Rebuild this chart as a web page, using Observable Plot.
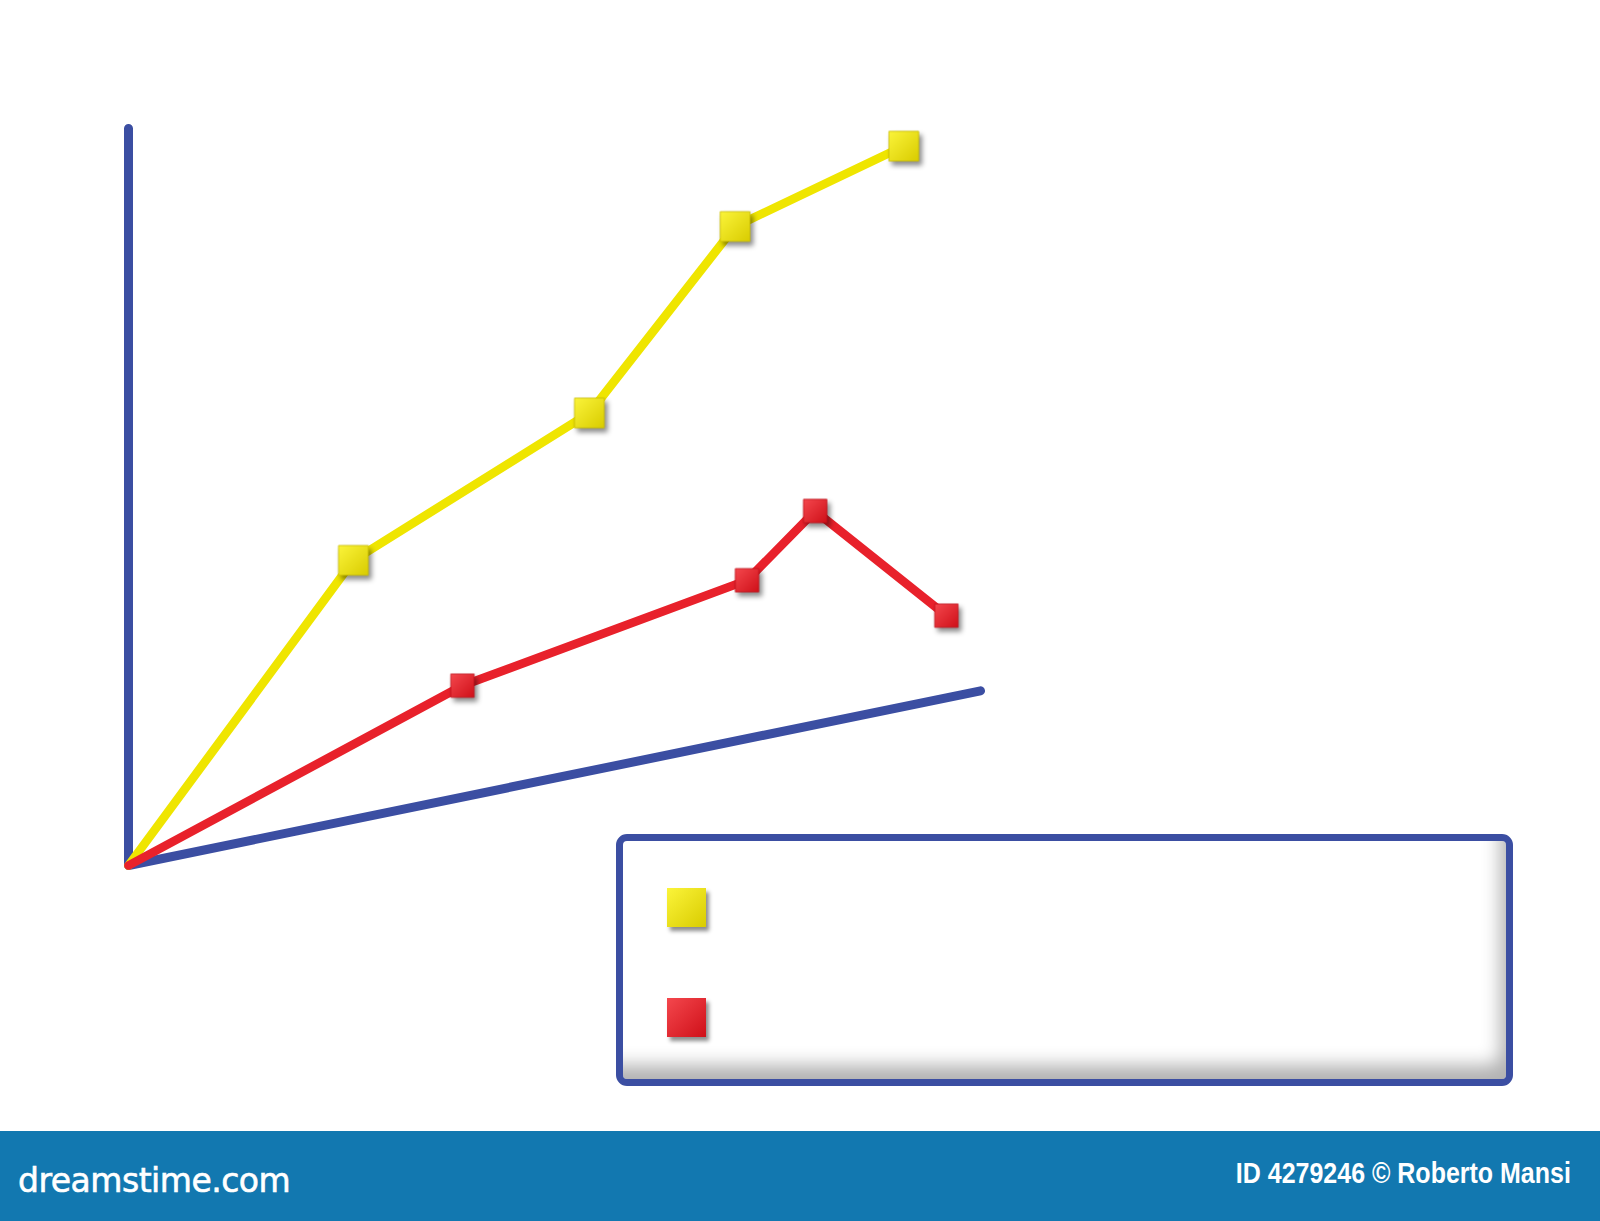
<!DOCTYPE html>
<html>
<head>
<meta charset="utf-8">
<script src="https://cdn.jsdelivr.net/npm/d3@7"></script>
<script src="https://cdn.jsdelivr.net/npm/@observablehq/plot@0.6"></script>
<style>
  html, body { margin: 0; padding: 0; background: #fff; }
  #page { position: relative; width: 1600px; height: 1221px; overflow: hidden; background: #fff; }
  #chart { position: absolute; left: 0; top: 0; }
  #legend {
    position: absolute; left: 616px; top: 834px; width: 897px; height: 252px;
    box-sizing: border-box; border: 7px solid #3b4ea2; border-radius: 11px; background: #fff;
    box-shadow: inset -16px -24px 18px -10px rgba(0,0,0,0.30);
  }
  .swatch { position: absolute; width: 39px; height: 39px; box-shadow: 3px 4px 4px rgba(0,0,0,0.45); }
  #banner {
    position: absolute; left: 0; top: 1131px; width: 1600px; height: 90px; background: #1278b0;
    color: #fff;
  }
  #logo { position: absolute; left: 18px; top: 30px; font-family: "DejaVu Sans", sans-serif; font-size: 33px; letter-spacing: -0.5px; -webkit-text-stroke: 0.6px #fff; }
  #credit { position: absolute; right: 29px; top: 26px; font-family: "Liberation Sans", "DejaVu Sans", sans-serif; font-weight: bold; font-size: 29px; transform-origin: right center; white-space: nowrap; }
</style>
</head>
<body>
<div id="page">
  <div id="chart"></div>
  <div id="legend"></div>
  <div id="banner">
    <div id="logo">dreamstime.com</div>
    <div id="credit">ID 4279246 © Roberto Mansi</div>
  </div>
</div>
<script>
// ---- data (chart units: origin at the axes corner) ----
const yellowX = [0, 26.4, 54.1, 71.2, 91.0];
const yellowY = [0, 41.4, 61.4, 86.7, 97.6];
const redX = [0, 39.2, 72.6, 80.6, 96.0];
const redY = [0, 24.4, 38.7, 48.1, 33.9];
const axisX = [0, 0, 100];      // vertical axis top, corner, slanted baseline end
const axisY = [100, 0, 23.7];
const seriesNames = ["Yellow series", "Red series"];

const yellow = yellowX.map((x, i) => ({x, y: yellowY[i], series: seriesNames[0]}));
const red = redX.map((x, i) => ({x, y: redY[i], series: seriesNames[1]}));
const axisPts = axisX.map((x, i) => ({x, y: axisY[i]}));

const BLUE = "#3b4ea2", YEL = "#efe500", RED = "#e8212b";

const plot = Plot.plot({
  width: 1600,
  height: 1131,
  marginLeft: 128,
  marginRight: 620,
  marginTop: 128,
  marginBottom: 266,
  x: {domain: [0, 100], axis: null},
  y: {domain: [0, 100], axis: null},
  style: {background: "transparent", overflow: "visible"},
  marks: [
    Plot.line(axisPts, {x: "x", y: "y", stroke: BLUE, strokeWidth: 9, strokeLinecap: "round", strokeLinejoin: "round"}),
    Plot.line(yellow, {x: "x", y: "y", stroke: YEL, strokeWidth: 8.7, strokeLinecap: "round", strokeLinejoin: "round"}),
    Plot.line(red, {x: "x", y: "y", stroke: RED, strokeWidth: 8.7, strokeLinecap: "round", strokeLinejoin: "round"}),
    Plot.dot(yellow.slice(1), {x: "x", y: "y", symbol: "square", r: 16.8, fill: "url(#gradYellow)", stroke: "#c9bd00", strokeWidth: 0.8}),
    Plot.dot(red.slice(1), {x: "x", y: "y", symbol: "square", r: 13.2, fill: "url(#gradRed)", stroke: "#c0101a", strokeWidth: 0.8})
  ]
});
document.getElementById("chart").appendChild(plot);

// gradients + shadows for the square markers
const svg = d3.select(plot);
const defs = svg.insert("defs", ":first-child");
function grad(id, c1, c2) {
  const g = defs.append("linearGradient").attr("id", id)
    .attr("x1", "0").attr("y1", "0").attr("x2", "1").attr("y2", "1");
  g.append("stop").attr("offset", "0").attr("stop-color", c1);
  g.append("stop").attr("offset", "1").attr("stop-color", c2);
}
grad("gradYellow", "#fbf43a", "#d9cc00");
grad("gradRed", "#f4474d", "#cf1019");
svg.selectAll('g[aria-label="dot"]').style("filter", "drop-shadow(3px 4px 2.5px rgba(0,0,0,0.45))");

// legend swatches
const legend = d3.select("#legend");
const swatchColors = [["#fbf43a", "#d9cc00"], ["#f4474d", "#cf1019"]];
const swatchTops = [47, 157];
seriesNames.forEach((name, i) => {
  legend.append("div").attr("class", "swatch").attr("title", name)
    .style("left", "44px").style("top", swatchTops[i] + "px")
    .style("background", `linear-gradient(135deg, ${swatchColors[i][0]}, ${swatchColors[i][1]})`);
});

// condensed credit text: squeeze to the reference width
const credit = document.getElementById("credit");
const w = credit.getBoundingClientRect().width;
credit.style.transform = `scaleX(${Math.min(1, 335 / w)})`;
</script>
</body>
</html>
